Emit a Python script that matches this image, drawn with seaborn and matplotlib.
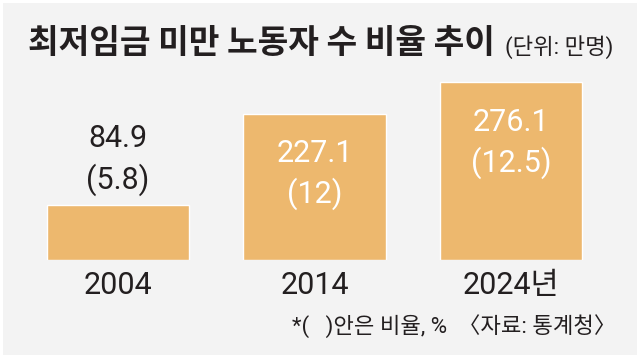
import matplotlib
matplotlib.use("Agg")
import matplotlib.pyplot as plt
from matplotlib.patches import Rectangle
import seaborn as sns

years = ["2004", "2014", "2024년"]
workers = [84.9, 227.1, 276.1]
ratios = [5.8, 12, 12.5]

BG = "#F3F3F3"
BAR = "#EDB86E"
INK = "#231F20"
NUM_FONT = ["Roboto", "Noto Sans CJK KR", "DejaVu Sans"]
KR_FONT = ["Noto Sans CJK KR", "DejaVu Sans"]

sns.set_theme(style="white")
plt.rcParams["font.family"] = NUM_FONT

fig = plt.figure(figsize=(6.4, 3.59), dpi=100, facecolor="white")
fig.patches.append(Rectangle((3 / 640, 4 / 359), 634 / 640, 352 / 359,
                             transform=fig.transFigure, facecolor=BG,
                             edgecolor="none", zorder=-10))

ax = fig.add_axes([0, 99 / 359, 1, 200 / 359])
ax.set_facecolor("none")
sns.barplot(x=years, y=workers, color=BAR, saturation=1, width=0.723, ax=ax)
ax.set_xlim(-0.6005, 2.6565)
ax.set_ylim(0, 310.6)
sns.despine(ax=ax, left=True, bottom=True)
ax.set_yticks([])
ax.tick_params(axis="x", length=0, pad=8)
for lab in ax.get_xticklabels():
    lab.set_fontsize(22)
    lab.set_color(INK)
    lab.set_family(NUM_FONT)

# value labels: above a short bar, inside the tall ones
for i, (w, r) in enumerate(zip(workers, ratios)):
    if w < 150:
        offs, col = (67, 26), INK
    else:
        offs, col = (-40, -80), "white"
    ax.annotate(f"{w:.1f}", (i, w), xytext=(0, offs[0]), textcoords="offset pixels",
                ha="center", va="center", fontsize=22, color=col, family=NUM_FONT)
    ax.annotate(f"({r:g})", (i, w), xytext=(0, offs[1]), textcoords="offset pixels",
                ha="center", va="center", fontsize=22, color=col, family=NUM_FONT)

fig.text(28 / 640, 1 - 44 / 359, "최저임금 미만 노동자 수 비율 추이", ha="left", va="center",
         fontsize=24, fontweight="bold", color=INK, family=KR_FONT)
fig.text(613 / 640, 1 - 47 / 359, "(단위: 만명)", ha="right", va="center",
         fontsize=16, color=INK, family=NUM_FONT)
fig.text(616 / 640, 1 - 326 / 359, "*(   )안은 비율, %  〈자료: 통계청〉", ha="right", va="center",
         fontsize=16, color=INK, family=NUM_FONT)

fig.savefig("out.png", dpi=100, facecolor=fig.get_facecolor())
